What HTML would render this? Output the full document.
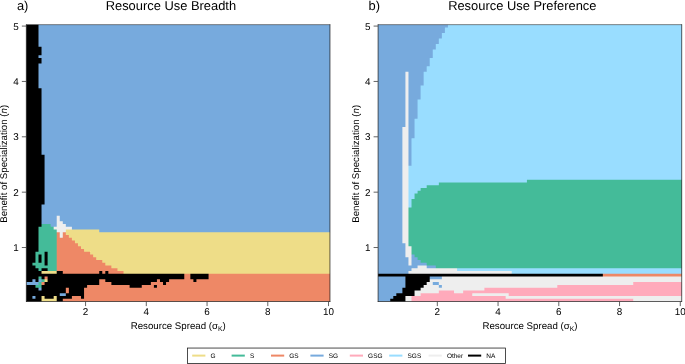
<!DOCTYPE html>
<html><head><meta charset="utf-8"><title>Resource Use</title>
<style>html,body{margin:0;padding:0;background:#fff}svg{display:block}.pg{display:none}@supports (mix-blend-mode:plus-lighter){.fb{display:none}.pg{display:inline}.pl{mix-blend-mode:plus-lighter}}</style></head>
<body>
<svg width="685" height="364" viewBox="0 0 685 364" font-family="'Liberation Sans', Arial, sans-serif" text-rendering="geometricPrecision" fill="#000">
<rect width="685" height="364" fill="#fff"/>
<g class="fb"><path fill="#000000" d="M26.35 24.7h13.15v23.14h-13.15z"/>
<path fill="#77AADD" d="M38.5 24.7h291.55v23.14h-291.55z"/>
<path fill="#000000" d="M26.35 46.84h16.18v9.3h-16.18z"/>
<path fill="#77AADD" d="M41.53 46.84h288.51v9.3h-288.51z"/>
<path fill="#000000" d="M26.35 55.15h13.15v3.77h-13.15z"/>
<path fill="#77AADD" d="M38.5 55.15h291.55v3.77h-291.55z"/>
<path fill="#000000" d="M26.35 57.92h16.18v6.54h-16.18z"/>
<path fill="#77AADD" d="M41.53 57.92h288.51v6.54h-288.51z"/>
<path fill="#000000" d="M26.35 63.45h13.15v25.91h-13.15z"/>
<path fill="#77AADD" d="M38.5 63.45h291.55v25.91h-291.55z"/>
<path fill="#000000" d="M26.35 88.36h16.18v67.43h-16.18z"/>
<path fill="#77AADD" d="M41.53 88.36h288.51v67.43h-288.51z"/>
<path fill="#000000" d="M26.35 154.8h19.22v50.82h-19.22z"/>
<path fill="#77AADD" d="M44.57 154.8h285.48v50.82h-285.48z"/>
<path fill="#000000" d="M26.35 204.62h16.18v12.07h-16.18z"/>
<path fill="#77AADD" d="M41.53 204.62h288.51v12.07h-288.51z"/>
<path fill="#000000" d="M26.35 215.69h16.18v6.54h-16.18z"/>
<path fill="#77AADD" d="M41.53 215.69h16.18v6.54h-16.18z"/>
<path fill="#EEEEEE" d="M56.72 215.69h4.04v6.54h-4.04z"/>
<path fill="#77AADD" d="M59.76 215.69h270.29v6.54h-270.29z"/>
<path fill="#000000" d="M26.35 221.23h16.18v3.77h-16.18z"/>
<path fill="#77AADD" d="M41.53 221.23h16.18v3.77h-16.18z"/>
<path fill="#EEEEEE" d="M56.72 221.23h7.07v3.77h-7.07z"/>
<path fill="#77AADD" d="M62.79 221.23h267.26v3.77h-267.26z"/>
<path fill="#000000" d="M26.35 224h16.18v3.77h-16.18z"/>
<path fill="#44BB99" d="M41.53 224h10.11v3.77h-10.11z"/>
<path fill="#77AADD" d="M50.65 224h7.07v3.77h-7.07z"/>
<path fill="#EEEEEE" d="M56.72 224h10.11v3.77h-10.11z"/>
<path fill="#77AADD" d="M65.83 224h264.22v3.77h-264.22z"/>
<path fill="#000000" d="M26.35 226.76h13.15v3.77h-13.15z"/>
<path fill="#44BB99" d="M38.5 226.76h16.18v3.77h-16.18z"/>
<path fill="#EEEEEE" d="M53.68 226.76h19.22v3.77h-19.22z"/>
<path fill="#77AADD" d="M71.91 226.76h258.14v3.77h-258.14z"/>
<path fill="#000000" d="M26.35 229.53h13.15v3.77h-13.15z"/>
<path fill="#44BB99" d="M38.5 229.53h19.22v3.77h-19.22z"/>
<path fill="#EEEEEE" d="M56.72 229.53h10.11v3.77h-10.11z"/>
<path fill="#EEDD88" d="M65.83 229.53h34.41v3.77h-34.41z"/>
<path fill="#77AADD" d="M99.24 229.53h230.81v3.77h-230.81z"/>
<path fill="#000000" d="M26.35 232.3h13.15v3.77h-13.15z"/>
<path fill="#44BB99" d="M38.5 232.3h19.22v3.77h-19.22z"/>
<path fill="#EE8866" d="M56.72 232.3h4.04v3.77h-4.04z"/>
<path fill="#EEEEEE" d="M59.76 232.3h4.04v3.77h-4.04z"/>
<path fill="#EE8866" d="M62.79 232.3h4.04v3.77h-4.04z"/>
<path fill="#EEDD88" d="M65.83 232.3h264.22v3.77h-264.22z"/>
<path fill="#000000" d="M26.35 235.07h13.15v3.77h-13.15z"/>
<path fill="#44BB99" d="M38.5 235.07h19.22v3.77h-19.22z"/>
<path fill="#EE8866" d="M56.72 235.07h4.04v3.77h-4.04z"/>
<path fill="#EEEEEE" d="M59.76 235.07h4.04v3.77h-4.04z"/>
<path fill="#EE8866" d="M62.79 235.07h7.07v3.77h-7.07z"/>
<path fill="#EEDD88" d="M68.87 235.07h261.18v3.77h-261.18z"/>
<path fill="#000000" d="M26.35 237.84h13.15v3.77h-13.15z"/>
<path fill="#44BB99" d="M38.5 237.84h19.22v3.77h-19.22z"/>
<path fill="#EE8866" d="M56.72 237.84h16.18v3.77h-16.18z"/>
<path fill="#EEDD88" d="M71.91 237.84h258.14v3.77h-258.14z"/>
<path fill="#000000" d="M26.35 240.6h13.15v3.77h-13.15z"/>
<path fill="#44BB99" d="M38.5 240.6h19.22v3.77h-19.22z"/>
<path fill="#EE8866" d="M56.72 240.6h19.22v3.77h-19.22z"/>
<path fill="#EEDD88" d="M74.94 240.6h255.11v3.77h-255.11z"/>
<path fill="#000000" d="M26.35 243.37h13.15v3.77h-13.15z"/>
<path fill="#44BB99" d="M38.5 243.37h19.22v3.77h-19.22z"/>
<path fill="#EE8866" d="M56.72 243.37h22.26v3.77h-22.26z"/>
<path fill="#EEDD88" d="M77.98 243.37h252.07v3.77h-252.07z"/>
<path fill="#000000" d="M26.35 246.14h13.15v3.77h-13.15z"/>
<path fill="#44BB99" d="M38.5 246.14h19.22v3.77h-19.22z"/>
<path fill="#EE8866" d="M56.72 246.14h25.3v3.77h-25.3z"/>
<path fill="#EEDD88" d="M81.02 246.14h249.03v3.77h-249.03z"/>
<path fill="#000000" d="M26.35 248.91h13.15v3.77h-13.15z"/>
<path fill="#44BB99" d="M38.5 248.91h19.22v3.77h-19.22z"/>
<path fill="#EE8866" d="M56.72 248.91h28.33v3.77h-28.33z"/>
<path fill="#EEDD88" d="M84.05 248.91h246v3.77h-246z"/>
<path fill="#000000" d="M26.35 251.68h10.11v3.77h-10.11z"/>
<path fill="#44BB99" d="M35.46 251.68h10.11v3.77h-10.11z"/>
<path fill="#000000" d="M44.57 251.68h4.04v3.77h-4.04z"/>
<path fill="#44BB99" d="M47.61 251.68h10.11v3.77h-10.11z"/>
<path fill="#EE8866" d="M56.72 251.68h34.41v3.77h-34.41z"/>
<path fill="#EEDD88" d="M90.13 251.68h239.92v3.77h-239.92z"/>
<path fill="#000000" d="M26.35 254.44h10.11v3.77h-10.11z"/>
<path fill="#44BB99" d="M35.46 254.44h4.04v3.77h-4.04z"/>
<path fill="#000000" d="M38.5 254.44h4.04v3.77h-4.04z"/>
<path fill="#44BB99" d="M41.53 254.44h4.04v3.77h-4.04z"/>
<path fill="#000000" d="M44.57 254.44h4.04v3.77h-4.04z"/>
<path fill="#44BB99" d="M47.61 254.44h10.11v3.77h-10.11z"/>
<path fill="#EE8866" d="M56.72 254.44h37.44v3.77h-37.44z"/>
<path fill="#EEDD88" d="M93.16 254.44h236.89v3.77h-236.89z"/>
<path fill="#000000" d="M26.35 257.21h10.11v3.77h-10.11z"/>
<path fill="#44BB99" d="M35.46 257.21h4.04v3.77h-4.04z"/>
<path fill="#000000" d="M38.5 257.21h4.04v3.77h-4.04z"/>
<path fill="#44BB99" d="M41.53 257.21h4.04v3.77h-4.04z"/>
<path fill="#000000" d="M44.57 257.21h4.04v3.77h-4.04z"/>
<path fill="#44BB99" d="M47.61 257.21h10.11v3.77h-10.11z"/>
<path fill="#EE8866" d="M56.72 257.21h40.48v3.77h-40.48z"/>
<path fill="#EEDD88" d="M96.2 257.21h233.85v3.77h-233.85z"/>
<path fill="#000000" d="M26.35 259.98h10.11v3.77h-10.11z"/>
<path fill="#44BB99" d="M35.46 259.98h4.04v3.77h-4.04z"/>
<path fill="#000000" d="M38.5 259.98h4.04v3.77h-4.04z"/>
<path fill="#44BB99" d="M41.53 259.98h4.04v3.77h-4.04z"/>
<path fill="#000000" d="M44.57 259.98h4.04v3.77h-4.04z"/>
<path fill="#44BB99" d="M47.61 259.98h10.11v3.77h-10.11z"/>
<path fill="#EE8866" d="M56.72 259.98h46.55v3.77h-46.55z"/>
<path fill="#EEDD88" d="M102.28 259.98h227.78v3.77h-227.78z"/>
<path fill="#000000" d="M26.35 262.75h7.07v3.77h-7.07z"/>
<path fill="#44BB99" d="M32.42 262.75h13.15v3.77h-13.15z"/>
<path fill="#000000" d="M44.57 262.75h4.04v3.77h-4.04z"/>
<path fill="#44BB99" d="M47.61 262.75h10.11v3.77h-10.11z"/>
<path fill="#EE8866" d="M56.72 262.75h49.59v3.77h-49.59z"/>
<path fill="#EEDD88" d="M105.31 262.75h224.74v3.77h-224.74z"/>
<path fill="#000000" d="M26.35 265.52h10.11v3.77h-10.11z"/>
<path fill="#44BB99" d="M35.46 265.52h22.26v3.77h-22.26z"/>
<path fill="#EE8866" d="M56.72 265.52h55.67v3.77h-55.67z"/>
<path fill="#EEDD88" d="M111.39 265.52h218.66v3.77h-218.66z"/>
<path fill="#000000" d="M26.35 268.28h13.15v3.77h-13.15z"/>
<path fill="#44BB99" d="M38.5 268.28h4.04v3.77h-4.04z"/>
<path fill="#000000" d="M41.53 268.28h7.07v3.77h-7.07z"/>
<path fill="#44BB99" d="M47.61 268.28h10.11v3.77h-10.11z"/>
<path fill="#EE8866" d="M56.72 268.28h61.74v3.77h-61.74z"/>
<path fill="#EEDD88" d="M117.46 268.28h212.59v3.77h-212.59z"/>
<path fill="#000000" d="M26.35 271.05h16.18v3.77h-16.18z"/>
<path fill="#EEDD88" d="M41.53 271.05h16.18v3.77h-16.18z"/>
<path fill="#000000" d="M56.72 271.05h7.07v3.77h-7.07z"/>
<path fill="#EE8866" d="M62.79 271.05h37.44v3.77h-37.44z"/>
<path fill="#000000" d="M99.24 271.05h4.04v3.77h-4.04z"/>
<path fill="#EE8866" d="M102.28 271.05h4.04v3.77h-4.04z"/>
<path fill="#000000" d="M105.31 271.05h4.04v3.77h-4.04z"/>
<path fill="#EE8866" d="M108.35 271.05h16.18v3.77h-16.18z"/>
<path fill="#EEDD88" d="M123.53 271.05h206.52v3.77h-206.52z"/>
<path fill="#000000" d="M26.35 273.82h158.92v3.77h-158.92z"/>
<path fill="#EE8866" d="M184.27 273.82h7.07v3.77h-7.07z"/>
<path fill="#000000" d="M190.35 273.82h19.22v3.77h-19.22z"/>
<path fill="#EE8866" d="M208.57 273.82h121.48v3.77h-121.48z"/>
<path fill="#000000" d="M26.35 276.59h13.15v3.77h-13.15z"/>
<path fill="#44BB99" d="M38.5 276.59h4.04v3.77h-4.04z"/>
<path fill="#000000" d="M41.53 276.59h4.04v3.77h-4.04z"/>
<path fill="#EE8866" d="M44.57 276.59h4.04v3.77h-4.04z"/>
<path fill="#000000" d="M47.61 276.59h137.66v3.77h-137.66z"/>
<path fill="#EE8866" d="M184.27 276.59h7.07v3.77h-7.07z"/>
<path fill="#000000" d="M190.35 276.59h19.22v3.77h-19.22z"/>
<path fill="#EE8866" d="M208.57 276.59h121.48v3.77h-121.48z"/>
<path fill="#000000" d="M26.35 279.36h7.07v3.77h-7.07z"/>
<path fill="#77AADD" d="M32.42 279.36h4.04v3.77h-4.04z"/>
<path fill="#000000" d="M35.46 279.36h4.04v3.77h-4.04z"/>
<path fill="#77AADD" d="M38.5 279.36h4.04v3.77h-4.04z"/>
<path fill="#44BB99" d="M41.53 279.36h4.04v3.77h-4.04z"/>
<path fill="#EEDD88" d="M44.57 279.36h4.04v3.77h-4.04z"/>
<path fill="#000000" d="M47.61 279.36h52.63v3.77h-52.63z"/>
<path fill="#EE8866" d="M99.24 279.36h7.07v3.77h-7.07z"/>
<path fill="#000000" d="M105.31 279.36h52.63v3.77h-52.63z"/>
<path fill="#EE8866" d="M156.94 279.36h4.04v3.77h-4.04z"/>
<path fill="#000000" d="M159.98 279.36h10.11v3.77h-10.11z"/>
<path fill="#EE8866" d="M169.09 279.36h25.3v3.77h-25.3z"/>
<path fill="#000000" d="M193.38 279.36h4.04v3.77h-4.04z"/>
<path fill="#EE8866" d="M196.42 279.36h133.63v3.77h-133.63z"/>
<path fill="#77AADD" d="M26.35 282.12h13.15v3.77h-13.15z"/>
<path fill="#44BB99" d="M38.5 282.12h4.04v3.77h-4.04z"/>
<path fill="#EE8866" d="M41.53 282.12h4.04v3.77h-4.04z"/>
<path fill="#000000" d="M44.57 282.12h55.67v3.77h-55.67z"/>
<path fill="#EE8866" d="M99.24 282.12h13.15v3.77h-13.15z"/>
<path fill="#000000" d="M111.39 282.12h40.48v3.77h-40.48z"/>
<path fill="#EE8866" d="M150.87 282.12h13.15v3.77h-13.15z"/>
<path fill="#000000" d="M163.01 282.12h4.04v3.77h-4.04z"/>
<path fill="#EE8866" d="M166.05 282.12h164v3.77h-164z"/>
<path fill="#000000" d="M26.35 284.89h10.11v3.77h-10.11z"/>
<path fill="#44BB99" d="M35.46 284.89h7.07v3.77h-7.07z"/>
<path fill="#000000" d="M41.53 284.89h46.55v3.77h-46.55z"/>
<path fill="#EE8866" d="M87.09 284.89h43.52v3.77h-43.52z"/>
<path fill="#000000" d="M129.61 284.89h13.15v3.77h-13.15z"/>
<path fill="#EE8866" d="M141.76 284.89h13.15v3.77h-13.15z"/>
<path fill="#000000" d="M153.9 284.89h4.04v3.77h-4.04z"/>
<path fill="#EE8866" d="M156.94 284.89h173.11v3.77h-173.11z"/>
<path fill="#000000" d="M26.35 287.66h13.15v3.77h-13.15z"/>
<path fill="#77AADD" d="M38.5 287.66h4.04v3.77h-4.04z"/>
<path fill="#000000" d="M41.53 287.66h25.3v3.77h-25.3z"/>
<path fill="#EE8866" d="M65.83 287.66h4.04v3.77h-4.04z"/>
<path fill="#000000" d="M68.87 287.66h16.18v3.77h-16.18z"/>
<path fill="#EE8866" d="M84.05 287.66h246v3.77h-246z"/>
<path fill="#000000" d="M26.35 290.43h40.48v3.77h-40.48z"/>
<path fill="#EE8866" d="M65.83 290.43h4.04v3.77h-4.04z"/>
<path fill="#000000" d="M68.87 290.43h16.18v3.77h-16.18z"/>
<path fill="#EE8866" d="M84.05 290.43h246v3.77h-246z"/>
<path fill="#000000" d="M26.35 293.2h34.41v3.77h-34.41z"/>
<path fill="#77AADD" d="M59.76 293.2h7.07v3.77h-7.07z"/>
<path fill="#000000" d="M65.83 293.2h19.22v3.77h-19.22z"/>
<path fill="#EE8866" d="M84.05 293.2h246v3.77h-246z"/>
<path fill="#000000" d="M26.35 295.96h7.07v3.77h-7.07z"/>
<path fill="#77AADD" d="M32.42 295.96h4.04v3.77h-4.04z"/>
<path fill="#000000" d="M35.46 295.96h7.07v3.77h-7.07z"/>
<path fill="#EEDD88" d="M41.53 295.96h4.04v3.77h-4.04z"/>
<path fill="#000000" d="M44.57 295.96h10.11v3.77h-10.11z"/>
<path fill="#EEDD88" d="M53.68 295.96h4.04v3.77h-4.04z"/>
<path fill="#000000" d="M56.72 295.96h16.18v3.77h-16.18z"/>
<path fill="#EE8866" d="M71.91 295.96h10.11v3.77h-10.11z"/>
<path fill="#000000" d="M81.02 295.96h4.04v3.77h-4.04z"/>
<path fill="#EE8866" d="M84.05 295.96h246v3.77h-246z"/>
<path fill="#000000" d="M26.35 298.73h16.18v2.77h-16.18z"/>
<path fill="#EEDD88" d="M41.53 298.73h16.18v2.77h-16.18z"/>
<path fill="#000000" d="M56.72 298.73h7.07v2.77h-7.07z"/>
<path fill="#EE8866" d="M62.79 298.73h267.26v2.77h-267.26z"/><path fill="#77AADD" d="M378.1 24.7h70.85v3.77h-70.85z"/>
<path fill="#99DDFF" d="M447.95 24.7h233.85v3.77h-233.85z"/>
<path fill="#77AADD" d="M378.1 27.47h67.81v6.54h-67.81z"/>
<path fill="#99DDFF" d="M444.91 27.47h236.89v6.54h-236.89z"/>
<path fill="#77AADD" d="M378.1 33h64.78v6.54h-64.78z"/>
<path fill="#99DDFF" d="M441.88 33h239.92v6.54h-239.92z"/>
<path fill="#77AADD" d="M378.1 38.54h61.74v6.54h-61.74z"/>
<path fill="#99DDFF" d="M438.84 38.54h242.96v6.54h-242.96z"/>
<path fill="#77AADD" d="M378.1 44.08h58.7v6.54h-58.7z"/>
<path fill="#99DDFF" d="M435.8 44.08h246v6.54h-246z"/>
<path fill="#77AADD" d="M378.1 49.61h55.67v9.3h-55.67z"/>
<path fill="#99DDFF" d="M432.77 49.61h249.03v9.3h-249.03z"/>
<path fill="#77AADD" d="M378.1 57.92h52.63v9.3h-52.63z"/>
<path fill="#99DDFF" d="M429.73 57.92h252.07v9.3h-252.07z"/>
<path fill="#77AADD" d="M378.1 66.22h49.59v6.54h-49.59z"/>
<path fill="#99DDFF" d="M426.69 66.22h255.11v6.54h-255.11z"/>
<path fill="#77AADD" d="M378.1 71.76h28.33v14.84h-28.33z"/>
<path fill="#EEEEEE" d="M405.43 71.76h4.04v14.84h-4.04z"/>
<path fill="#77AADD" d="M408.47 71.76h16.18v14.84h-16.18z"/>
<path fill="#99DDFF" d="M423.66 71.76h258.14v14.84h-258.14z"/>
<path fill="#77AADD" d="M378.1 85.6h28.33v14.84h-28.33z"/>
<path fill="#EEEEEE" d="M405.43 85.6h4.04v14.84h-4.04z"/>
<path fill="#77AADD" d="M408.47 85.6h13.15v14.84h-13.15z"/>
<path fill="#99DDFF" d="M420.62 85.6h261.18v14.84h-261.18z"/>
<path fill="#77AADD" d="M378.1 99.44h28.33v20.38h-28.33z"/>
<path fill="#EEEEEE" d="M405.43 99.44h4.04v20.38h-4.04z"/>
<path fill="#77AADD" d="M408.47 99.44h10.11v20.38h-10.11z"/>
<path fill="#99DDFF" d="M417.58 99.44h264.22v20.38h-264.22z"/>
<path fill="#77AADD" d="M378.1 118.81h28.33v9.3h-28.33z"/>
<path fill="#EEEEEE" d="M405.43 118.81h4.04v9.3h-4.04z"/>
<path fill="#77AADD" d="M408.47 118.81h7.07v9.3h-7.07z"/>
<path fill="#99DDFF" d="M414.54 118.81h267.26v9.3h-267.26z"/>
<path fill="#77AADD" d="M378.1 127.12h25.3v12.07h-25.3z"/>
<path fill="#EEEEEE" d="M402.4 127.12h7.07v12.07h-7.07z"/>
<path fill="#77AADD" d="M408.47 127.12h7.07v12.07h-7.07z"/>
<path fill="#99DDFF" d="M414.54 127.12h267.26v12.07h-267.26z"/>
<path fill="#77AADD" d="M378.1 138.19h25.3v28.68h-25.3z"/>
<path fill="#EEEEEE" d="M402.4 138.19h7.07v28.68h-7.07z"/>
<path fill="#77AADD" d="M408.47 138.19h4.04v28.68h-4.04z"/>
<path fill="#99DDFF" d="M411.51 138.19h270.29v28.68h-270.29z"/>
<path fill="#77AADD" d="M378.1 165.87h25.3v14.84h-25.3z"/>
<path fill="#EEEEEE" d="M402.4 165.87h7.07v14.84h-7.07z"/>
<path fill="#99DDFF" d="M408.47 165.87h273.33v14.84h-273.33z"/>
<path fill="#77AADD" d="M378.1 179.71h25.3v3.77h-25.3z"/>
<path fill="#EEEEEE" d="M402.4 179.71h7.07v3.77h-7.07z"/>
<path fill="#99DDFF" d="M408.47 179.71h119.44v3.77h-119.44z"/>
<path fill="#44BB99" d="M526.91 179.71h154.89v3.77h-154.89z"/>
<path fill="#77AADD" d="M378.1 182.48h25.3v3.77h-25.3z"/>
<path fill="#EEEEEE" d="M402.4 182.48h7.07v3.77h-7.07z"/>
<path fill="#99DDFF" d="M408.47 182.48h31.37v3.77h-31.37z"/>
<path fill="#44BB99" d="M438.84 182.48h242.96v3.77h-242.96z"/>
<path fill="#77AADD" d="M378.1 185.24h25.3v3.77h-25.3z"/>
<path fill="#EEEEEE" d="M402.4 185.24h7.07v3.77h-7.07z"/>
<path fill="#99DDFF" d="M408.47 185.24h19.22v3.77h-19.22z"/>
<path fill="#44BB99" d="M426.69 185.24h255.11v3.77h-255.11z"/>
<path fill="#77AADD" d="M378.1 188.01h25.3v3.77h-25.3z"/>
<path fill="#EEEEEE" d="M402.4 188.01h7.07v3.77h-7.07z"/>
<path fill="#99DDFF" d="M408.47 188.01h13.15v3.77h-13.15z"/>
<path fill="#44BB99" d="M420.62 188.01h261.18v3.77h-261.18z"/>
<path fill="#77AADD" d="M378.1 190.78h25.3v3.77h-25.3z"/>
<path fill="#EEEEEE" d="M402.4 190.78h7.07v3.77h-7.07z"/>
<path fill="#99DDFF" d="M408.47 190.78h10.11v3.77h-10.11z"/>
<path fill="#44BB99" d="M417.58 190.78h264.22v3.77h-264.22z"/>
<path fill="#77AADD" d="M378.1 193.55h25.3v6.54h-25.3z"/>
<path fill="#EEEEEE" d="M402.4 193.55h7.07v6.54h-7.07z"/>
<path fill="#99DDFF" d="M408.47 193.55h7.07v6.54h-7.07z"/>
<path fill="#44BB99" d="M414.54 193.55h267.26v6.54h-267.26z"/>
<path fill="#77AADD" d="M378.1 199.08h25.3v9.3h-25.3z"/>
<path fill="#EEEEEE" d="M402.4 199.08h7.07v9.3h-7.07z"/>
<path fill="#99DDFF" d="M408.47 199.08h4.04v9.3h-4.04z"/>
<path fill="#44BB99" d="M411.51 199.08h270.29v9.3h-270.29z"/>
<path fill="#77AADD" d="M378.1 207.39h25.3v36.98h-25.3z"/>
<path fill="#EEEEEE" d="M402.4 207.39h7.07v36.98h-7.07z"/>
<path fill="#44BB99" d="M408.47 207.39h273.33v36.98h-273.33z"/>
<path fill="#77AADD" d="M378.1 243.37h28.33v3.77h-28.33z"/>
<path fill="#EEEEEE" d="M405.43 243.37h4.04v3.77h-4.04z"/>
<path fill="#44BB99" d="M408.47 243.37h273.33v3.77h-273.33z"/>
<path fill="#77AADD" d="M378.1 246.14h28.33v9.3h-28.33z"/>
<path fill="#EEEEEE" d="M405.43 246.14h7.07v9.3h-7.07z"/>
<path fill="#44BB99" d="M411.51 246.14h270.29v9.3h-270.29z"/>
<path fill="#77AADD" d="M378.1 254.44h28.33v3.77h-28.33z"/>
<path fill="#EEEEEE" d="M405.43 254.44h7.07v3.77h-7.07z"/>
<path fill="#77AADD" d="M411.51 254.44h4.04v3.77h-4.04z"/>
<path fill="#44BB99" d="M414.54 254.44h267.26v3.77h-267.26z"/>
<path fill="#77AADD" d="M378.1 257.21h31.37v3.77h-31.37z"/>
<path fill="#EEEEEE" d="M408.47 257.21h4.04v3.77h-4.04z"/>
<path fill="#77AADD" d="M411.51 257.21h7.07v3.77h-7.07z"/>
<path fill="#44BB99" d="M417.58 257.21h264.22v3.77h-264.22z"/>
<path fill="#77AADD" d="M378.1 259.98h31.37v3.77h-31.37z"/>
<path fill="#EEEEEE" d="M408.47 259.98h4.04v3.77h-4.04z"/>
<path fill="#77AADD" d="M411.51 259.98h10.11v3.77h-10.11z"/>
<path fill="#44BB99" d="M420.62 259.98h261.18v3.77h-261.18z"/>
<path fill="#77AADD" d="M378.1 262.75h31.37v3.77h-31.37z"/>
<path fill="#EEEEEE" d="M408.47 262.75h4.04v3.77h-4.04z"/>
<path fill="#77AADD" d="M411.51 262.75h16.18v3.77h-16.18z"/>
<path fill="#44BB99" d="M426.69 262.75h255.11v3.77h-255.11z"/>
<path fill="#77AADD" d="M378.1 265.52h40.48v3.77h-40.48z"/>
<path fill="#EEEEEE" d="M417.58 265.52h10.11v3.77h-10.11z"/>
<path fill="#77AADD" d="M426.69 265.52h10.11v3.77h-10.11z"/>
<path fill="#44BB99" d="M435.8 265.52h246v3.77h-246z"/>
<path fill="#77AADD" d="M378.1 268.28h34.41v3.77h-34.41z"/>
<path fill="#EEEEEE" d="M411.51 268.28h46.55v3.77h-46.55z"/>
<path fill="#99DDFF" d="M457.06 268.28h224.74v3.77h-224.74z"/>
<path fill="#77AADD" d="M378.1 271.05h31.37v3.77h-31.37z"/>
<path fill="#EEEEEE" d="M408.47 271.05h104.26v3.77h-104.26z"/>
<path fill="#99DDFF" d="M511.73 271.05h170.07v3.77h-170.07z"/>
<path fill="#000000" d="M378.1 273.82h225.74v3.77h-225.74z"/>
<path fill="#EE8866" d="M602.84 273.82h78.96v3.77h-78.96z"/>
<path fill="#77AADD" d="M378.1 276.59h28.33v3.77h-28.33z"/>
<path fill="#000000" d="M405.43 276.59h25.3v3.77h-25.3z"/>
<path fill="#77AADD" d="M429.73 276.59h13.15v3.77h-13.15z"/>
<path fill="#EEEEEE" d="M441.88 276.59h239.92v3.77h-239.92z"/>
<path fill="#77AADD" d="M378.1 279.36h28.33v3.77h-28.33z"/>
<path fill="#000000" d="M405.43 279.36h25.3v3.77h-25.3z"/>
<path fill="#EEEEEE" d="M429.73 279.36h252.07v3.77h-252.07z"/>
<path fill="#77AADD" d="M378.1 282.12h28.33v3.77h-28.33z"/>
<path fill="#000000" d="M405.43 282.12h22.26v3.77h-22.26z"/>
<path fill="#EEEEEE" d="M426.69 282.12h7.07v3.77h-7.07z"/>
<path fill="#77AADD" d="M432.77 282.12h7.07v3.77h-7.07z"/>
<path fill="#EEEEEE" d="M438.84 282.12h195.37v3.77h-195.37z"/>
<path fill="#FFAABB" d="M633.21 282.12h48.59v3.77h-48.59z"/>
<path fill="#77AADD" d="M378.1 284.89h28.33v3.77h-28.33z"/>
<path fill="#000000" d="M405.43 284.89h19.22v3.77h-19.22z"/>
<path fill="#EEEEEE" d="M423.66 284.89h16.18v3.77h-16.18z"/>
<path fill="#77AADD" d="M438.84 284.89h4.04v3.77h-4.04z"/>
<path fill="#EEEEEE" d="M441.88 284.89h116.41v3.77h-116.41z"/>
<path fill="#FFAABB" d="M557.28 284.89h124.52v3.77h-124.52z"/>
<path fill="#77AADD" d="M378.1 287.66h25.3v3.77h-25.3z"/>
<path fill="#000000" d="M402.4 287.66h19.22v3.77h-19.22z"/>
<path fill="#EEEEEE" d="M420.62 287.66h64.78v3.77h-64.78z"/>
<path fill="#FFAABB" d="M484.4 287.66h197.4v3.77h-197.4z"/>
<path fill="#77AADD" d="M378.1 290.43h25.3v3.77h-25.3z"/>
<path fill="#000000" d="M402.4 290.43h13.15v3.77h-13.15z"/>
<path fill="#EEEEEE" d="M414.54 290.43h25.3v3.77h-25.3z"/>
<path fill="#FFAABB" d="M438.84 290.43h16.18v3.77h-16.18z"/>
<path fill="#EEEEEE" d="M454.03 290.43h10.11v3.77h-10.11z"/>
<path fill="#FFAABB" d="M463.14 290.43h218.66v3.77h-218.66z"/>
<path fill="#77AADD" d="M378.1 293.2h19.22v3.77h-19.22z"/>
<path fill="#000000" d="M396.32 293.2h19.22v3.77h-19.22z"/>
<path fill="#EEEEEE" d="M414.54 293.2h7.07v3.77h-7.07z"/>
<path fill="#FFAABB" d="M420.62 293.2h52.63v3.77h-52.63z"/>
<path fill="#EEEEEE" d="M472.25 293.2h37.44v3.77h-37.44z"/>
<path fill="#FFAABB" d="M508.69 293.2h173.11v3.77h-173.11z"/>
<path fill="#77AADD" d="M378.1 295.96h16.18v3.77h-16.18z"/>
<path fill="#000000" d="M393.29 295.96h13.15v3.77h-13.15z"/>
<path fill="#EEEEEE" d="M405.43 295.96h7.07v3.77h-7.07z"/>
<path fill="#FFAABB" d="M411.51 295.96h95.15v3.77h-95.15z"/>
<path fill="#EEEEEE" d="M505.65 295.96h176.15v3.77h-176.15z"/>
<path fill="#77AADD" d="M378.1 298.73h13.15v2.77h-13.15z"/>
<path fill="#000000" d="M390.25 298.73h16.18v2.77h-16.18z"/>
<path fill="#EEEEEE" d="M405.43 298.73h7.07v2.77h-7.07z"/>
<path fill="#FFAABB" d="M411.51 298.73h222.7v2.77h-222.7z"/>
<path fill="#EEEEEE" d="M633.21 298.73h48.59v2.77h-48.59z"/></g>
<g class="pg"><rect x="26.35" y="24.7" width="303.7" height="276.8" fill="#000"/>
<path class="pl" fill="#77AADD" d="M38.498 24.7h291.552v22.144h-291.552zM41.535 46.844h288.515v8.304h-288.515zM38.498 55.148h291.552v2.768h-291.552zM41.535 57.916h288.515v5.536h-288.515zM38.498 63.452h291.552v24.912h-291.552zM41.535 88.364h288.515v66.432h-288.515zM44.572 154.796h285.478v49.824h-285.478zM41.535 204.62h288.515v11.072h-288.515zM59.757 215.692h270.293v5.536h-270.293zM41.535 215.692h15.185v8.304h-15.185zM62.794 221.228h267.256v2.768h-267.256zM50.646 223.996h6.074v2.768h-6.074zM65.831 223.996h264.219v2.768h-264.219zM71.905 226.764h258.145v2.768h-258.145zM99.238 229.532h230.812v2.768h-230.812zM32.424 279.356h3.037v2.768h-3.037zM38.498 279.356h3.037v2.768h-3.037zM26.35 282.124h12.148v2.768h-12.148zM38.498 287.66h3.037v2.768h-3.037zM59.757 293.196h6.074v2.768h-6.074zM32.424 295.964h3.037v2.768h-3.037z"/>
<path class="pl" fill="#EEDD88" d="M65.831 229.532h33.407v2.768h-33.407zM65.831 232.3h264.219v2.768h-264.219zM68.868 235.068h261.182v2.768h-261.182zM71.905 237.836h258.145v2.768h-258.145zM74.942 240.604h255.108v2.768h-255.108zM77.979 243.372h252.071v2.768h-252.071zM81.016 246.14h249.034v2.768h-249.034zM84.053 248.908h245.997v2.768h-245.997zM90.127 251.676h239.923v2.768h-239.923zM93.164 254.444h236.886v2.768h-236.886zM96.201 257.212h233.849v2.768h-233.849zM102.275 259.98h227.775v2.768h-227.775zM105.312 262.748h224.738v2.768h-224.738zM111.386 265.516h218.664v2.768h-218.664zM117.46 268.284h212.59v2.768h-212.59zM41.535 271.052h15.185v2.768h-15.185zM123.534 271.052h206.516v2.768h-206.516zM44.572 279.356h3.037v2.768h-3.037zM41.535 295.964h3.037v2.768h-3.037zM53.683 295.964h3.037v2.768h-3.037zM41.535 298.732h15.185v2.768h-15.185z"/>
<path class="pl" fill="#EE8866" d="M62.794 232.3h3.037v2.768h-3.037zM56.72 232.3h3.037v5.536h-3.037zM62.794 235.068h6.074v2.768h-6.074zM56.72 237.836h15.185v2.768h-15.185zM56.72 240.604h18.222v2.768h-18.222zM56.72 243.372h21.259v2.768h-21.259zM56.72 246.14h24.296v2.768h-24.296zM56.72 248.908h27.333v2.768h-27.333zM56.72 251.676h33.407v2.768h-33.407zM56.72 254.444h36.444v2.768h-36.444zM56.72 257.212h39.481v2.768h-39.481zM56.72 259.98h45.555v2.768h-45.555zM56.72 262.748h48.592v2.768h-48.592zM56.72 265.516h54.666v2.768h-54.666zM56.72 268.284h60.74v2.768h-60.74zM62.794 271.052h36.444v2.768h-36.444zM102.275 271.052h3.037v2.768h-3.037zM108.349 271.052h15.185v2.768h-15.185zM44.572 276.588h3.037v2.768h-3.037zM184.274 273.82h6.074v5.536h-6.074zM208.57 273.82h121.48v5.536h-121.48zM99.238 279.356h6.074v2.768h-6.074zM156.941 279.356h3.037v2.768h-3.037zM169.089 279.356h24.296v2.768h-24.296zM196.422 279.356h133.628v2.768h-133.628zM41.535 282.124h3.037v2.768h-3.037zM99.238 282.124h12.148v2.768h-12.148zM150.867 282.124h12.148v2.768h-12.148zM166.052 282.124h163.998v2.768h-163.998zM87.09 284.892h42.518v2.768h-42.518zM141.756 284.892h12.148v2.768h-12.148zM156.941 284.892h173.109v2.768h-173.109zM65.831 287.66h3.037v5.536h-3.037zM71.905 295.964h9.111v2.768h-9.111zM84.053 287.66h245.997v11.072h-245.997zM62.794 298.732h267.256v2.768h-267.256z"/>
<path class="pl" fill="#44BB99" d="M41.535 223.996h9.111v2.768h-9.111zM38.498 226.764h15.185v2.768h-15.185zM38.498 229.532h18.222v22.144h-18.222zM35.461 251.676h9.111v2.768h-9.111zM35.461 254.444h3.037v8.304h-3.037zM41.535 254.444h3.037v8.304h-3.037zM32.424 262.748h12.148v2.768h-12.148zM47.609 251.676h9.111v13.84h-9.111zM35.461 265.516h21.259v2.768h-21.259zM38.498 268.284h3.037v2.768h-3.037zM47.609 268.284h9.111v2.768h-9.111zM38.498 276.588h3.037v2.768h-3.037zM41.535 279.356h3.037v2.768h-3.037zM38.498 282.124h3.037v2.768h-3.037zM35.461 284.892h6.074v2.768h-6.074z"/>
<path class="pl" fill="#EEEEEE" d="M56.72 215.692h3.037v5.536h-3.037zM56.72 221.228h6.074v2.768h-6.074zM56.72 223.996h9.111v2.768h-9.111zM53.683 226.764h18.222v2.768h-18.222zM56.72 229.532h9.111v2.768h-9.111zM59.757 232.3h3.037v5.536h-3.037z"/></g>
<g class="pg"><rect x="378.1" y="24.7" width="303.7" height="276.8" fill="#000"/>
<path class="pl" fill="#99DDFF" d="M447.951 24.7h233.849v2.768h-233.849zM444.914 27.468h236.886v5.536h-236.886zM441.877 33.004h239.923v5.536h-239.923zM438.84 38.54h242.96v5.536h-242.96zM435.803 44.076h245.997v5.536h-245.997zM432.766 49.612h249.034v8.304h-249.034zM429.729 57.916h252.071v8.304h-252.071zM426.692 66.22h255.108v5.536h-255.108zM423.655 71.756h258.145v13.84h-258.145zM420.618 85.596h261.182v13.84h-261.182zM417.581 99.436h264.219v19.376h-264.219zM414.544 118.812h267.256v19.376h-267.256zM411.507 138.188h270.293v27.68h-270.293zM408.47 165.868h273.33v13.84h-273.33zM408.47 179.708h118.443v2.768h-118.443zM408.47 182.476h30.37v2.768h-30.37zM408.47 185.244h18.222v2.768h-18.222zM408.47 188.012h12.148v2.768h-12.148zM408.47 190.78h9.111v2.768h-9.111zM408.47 193.548h6.074v5.536h-6.074zM408.47 199.084h3.037v8.304h-3.037zM457.062 268.284h224.738v2.768h-224.738zM511.728 271.052h170.072v2.768h-170.072z"/>
<path class="pl" fill="#44BB99" d="M526.913 179.708h154.887v2.768h-154.887zM438.84 182.476h242.96v2.768h-242.96zM426.692 185.244h255.108v2.768h-255.108zM420.618 188.012h261.182v2.768h-261.182zM417.581 190.78h264.219v2.768h-264.219zM414.544 193.548h267.256v5.536h-267.256zM411.507 199.084h270.293v8.304h-270.293zM408.47 207.388h273.33v38.752h-273.33zM411.507 246.14h270.293v8.304h-270.293zM414.544 254.444h267.256v2.768h-267.256zM417.581 257.212h264.219v2.768h-264.219zM420.618 259.98h261.182v2.768h-261.182zM426.692 262.748h255.108v2.768h-255.108zM435.803 265.516h245.997v2.768h-245.997z"/>
<path class="pl" fill="#77AADD" d="M378.1 24.7h69.851v2.768h-69.851zM378.1 27.468h66.814v5.536h-66.814zM378.1 33.004h63.777v5.536h-63.777zM378.1 38.54h60.74v5.536h-60.74zM378.1 44.076h57.703v5.536h-57.703zM378.1 49.612h54.666v8.304h-54.666zM378.1 57.916h51.629v8.304h-51.629zM378.1 66.22h48.592v5.536h-48.592zM408.47 71.756h15.185v13.84h-15.185zM408.47 85.596h12.148v13.84h-12.148zM408.47 99.436h9.111v19.376h-9.111zM378.1 71.756h27.333v55.36h-27.333zM408.47 118.812h6.074v19.376h-6.074zM408.47 138.188h3.037v27.68h-3.037zM378.1 127.116h24.296v116.256h-24.296zM378.1 243.372h27.333v13.84h-27.333zM411.507 254.444h3.037v2.768h-3.037zM411.507 257.212h6.074v2.768h-6.074zM411.507 259.98h9.111v2.768h-9.111zM378.1 257.212h30.37v8.304h-30.37zM411.507 262.748h15.185v2.768h-15.185zM378.1 265.516h39.481v2.768h-39.481zM426.692 265.516h9.111v2.768h-9.111zM378.1 268.284h33.407v2.768h-33.407zM378.1 271.052h30.37v2.768h-30.37zM429.729 276.588h12.148v2.768h-12.148zM432.766 282.124h6.074v2.768h-6.074zM378.1 276.588h27.333v11.072h-27.333zM438.84 284.892h3.037v2.768h-3.037zM378.1 287.66h24.296v5.536h-24.296zM378.1 293.196h18.222v2.768h-18.222zM378.1 295.964h15.185v2.768h-15.185zM378.1 298.732h12.148v2.768h-12.148z"/>
<path class="pl" fill="#EEEEEE" d="M405.433 71.756h3.037v55.36h-3.037zM402.396 127.116h6.074v116.256h-6.074zM405.433 243.372h3.037v2.768h-3.037zM405.433 246.14h6.074v11.072h-6.074zM408.47 257.212h3.037v8.304h-3.037zM417.581 265.516h9.111v2.768h-9.111zM411.507 268.284h45.555v2.768h-45.555zM408.47 271.052h103.258v2.768h-103.258zM441.877 276.588h239.923v2.768h-239.923zM429.729 279.356h252.071v2.768h-252.071zM426.692 282.124h6.074v2.768h-6.074zM438.84 282.124h194.368v2.768h-194.368zM423.655 284.892h15.185v2.768h-15.185zM441.877 284.892h115.406v2.768h-115.406zM420.618 287.66h63.777v2.768h-63.777zM414.544 290.428h24.296v2.768h-24.296zM454.025 290.428h9.111v2.768h-9.111zM414.544 293.196h6.074v2.768h-6.074zM472.247 293.196h36.444v2.768h-36.444zM505.654 295.964h176.146v2.768h-176.146zM405.433 295.964h6.074v5.536h-6.074zM633.208 298.732h48.592v2.768h-48.592z"/>
<path class="pl" fill="#FFAABB" d="M633.208 282.124h48.592v2.768h-48.592zM557.283 284.892h124.517v2.768h-124.517zM484.395 287.66h197.405v2.768h-197.405zM438.84 290.428h15.185v2.768h-15.185zM463.136 290.428h218.664v2.768h-218.664zM420.618 293.196h51.629v2.768h-51.629zM508.691 293.196h173.109v2.768h-173.109zM411.507 295.964h94.147v2.768h-94.147zM411.507 298.732h221.701v2.768h-221.701z"/>
<path class="pl" fill="#EE8866" d="M602.838 273.82h78.962v2.768h-78.962z"/></g>
<g stroke="#1a1a1a" fill="none"><path d="M26 24.65H330.3" stroke-width="0.5"/><path d="M329.95 24.4V301.85" stroke-width="0.7"/><path d="M26 301.5H330.3" stroke-width="0.7"/><path d="M26.35 24.4V301.85" stroke-width="0.7"/></g>
<g stroke="#1a1a1a" fill="none"><path d="M377.75 24.65H682.05" stroke-width="0.5"/><path d="M681.7 24.4V301.85" stroke-width="0.7"/><path d="M377.75 301.5H682.05" stroke-width="0.7"/><path d="M378.1 24.4V301.85" stroke-width="0.7"/></g>
<line x1="85.572" y1="301.8" x2="85.572" y2="306.1" stroke="#222" stroke-width="0.7"/>
<text x="85.572" y="315.2" font-size="9.9" text-anchor="middle">2</text>
<line x1="146.311" y1="301.8" x2="146.311" y2="306.1" stroke="#222" stroke-width="0.7"/>
<text x="146.311" y="315.2" font-size="9.9" text-anchor="middle">4</text>
<line x1="207.051" y1="301.8" x2="207.051" y2="306.1" stroke="#222" stroke-width="0.7"/>
<text x="207.051" y="315.2" font-size="9.9" text-anchor="middle">6</text>
<line x1="267.791" y1="301.8" x2="267.791" y2="306.1" stroke="#222" stroke-width="0.7"/>
<text x="267.791" y="315.2" font-size="9.9" text-anchor="middle">8</text>
<line x1="328.531" y1="301.8" x2="328.531" y2="306.1" stroke="#222" stroke-width="0.7"/>
<text x="328.531" y="315.2" font-size="9.9" text-anchor="middle">10</text>
<line x1="21.85" y1="247.524" x2="26.15" y2="247.524" stroke="#222" stroke-width="0.7"/>
<text x="18.65" y="251.124" font-size="9.9" text-anchor="end">1</text>
<line x1="21.85" y1="192.164" x2="26.15" y2="192.164" stroke="#222" stroke-width="0.7"/>
<text x="18.65" y="195.764" font-size="9.9" text-anchor="end">2</text>
<line x1="21.85" y1="136.804" x2="26.15" y2="136.804" stroke="#222" stroke-width="0.7"/>
<text x="18.65" y="140.404" font-size="9.9" text-anchor="end">3</text>
<line x1="21.85" y1="81.444" x2="26.15" y2="81.444" stroke="#222" stroke-width="0.7"/>
<text x="18.65" y="85.044" font-size="9.9" text-anchor="end">4</text>
<line x1="21.85" y1="26.084" x2="26.15" y2="26.084" stroke="#222" stroke-width="0.7"/>
<text x="18.65" y="29.684" font-size="9.9" text-anchor="end">5</text>
<text x="178.2" y="329" font-size="9.7" text-anchor="middle">Resource Spread (σ<tspan font-size="6.8" dy="1.6">K</tspan><tspan dy="-1.6">)</tspan></text>
<text transform="translate(7.35 163.8) rotate(-90)" font-size="9.7" text-anchor="middle">Benefit of Specialization (<tspan font-style="italic">n</tspan>)</text>
<line x1="437.322" y1="301.8" x2="437.322" y2="306.1" stroke="#222" stroke-width="0.7"/>
<text x="437.322" y="315.2" font-size="9.9" text-anchor="middle">2</text>
<line x1="498.062" y1="301.8" x2="498.062" y2="306.1" stroke="#222" stroke-width="0.7"/>
<text x="498.062" y="315.2" font-size="9.9" text-anchor="middle">4</text>
<line x1="558.802" y1="301.8" x2="558.802" y2="306.1" stroke="#222" stroke-width="0.7"/>
<text x="558.802" y="315.2" font-size="9.9" text-anchor="middle">6</text>
<line x1="619.542" y1="301.8" x2="619.542" y2="306.1" stroke="#222" stroke-width="0.7"/>
<text x="619.542" y="315.2" font-size="9.9" text-anchor="middle">8</text>
<line x1="680.282" y1="301.8" x2="680.282" y2="306.1" stroke="#222" stroke-width="0.7"/>
<text x="680.282" y="315.2" font-size="9.9" text-anchor="middle">10</text>
<line x1="373.6" y1="247.524" x2="377.9" y2="247.524" stroke="#222" stroke-width="0.7"/>
<text x="370.4" y="251.124" font-size="9.9" text-anchor="end">1</text>
<line x1="373.6" y1="192.164" x2="377.9" y2="192.164" stroke="#222" stroke-width="0.7"/>
<text x="370.4" y="195.764" font-size="9.9" text-anchor="end">2</text>
<line x1="373.6" y1="136.804" x2="377.9" y2="136.804" stroke="#222" stroke-width="0.7"/>
<text x="370.4" y="140.404" font-size="9.9" text-anchor="end">3</text>
<line x1="373.6" y1="81.444" x2="377.9" y2="81.444" stroke="#222" stroke-width="0.7"/>
<text x="370.4" y="85.044" font-size="9.9" text-anchor="end">4</text>
<line x1="373.6" y1="26.084" x2="377.9" y2="26.084" stroke="#222" stroke-width="0.7"/>
<text x="370.4" y="29.684" font-size="9.9" text-anchor="end">5</text>
<text x="529.95" y="329" font-size="9.7" text-anchor="middle">Resource Spread (σ<tspan font-size="6.8" dy="1.6">K</tspan><tspan dy="-1.6">)</tspan></text>
<text transform="translate(359.1 163.8) rotate(-90)" font-size="9.7" text-anchor="middle">Benefit of Specialization (<tspan font-style="italic">n</tspan>)</text>
<text x="170.9" y="9.8" font-size="12.9" text-anchor="middle">Resource Use Breadth</text>
<text x="522.3" y="9.8" font-size="12.9" text-anchor="middle">Resource Use Preference</text>
<text x="16.9" y="9.8" font-size="12.9">a)</text>
<text x="368.6" y="9.8" font-size="12.9">b)</text>
<rect x="187.5" y="348.05" width="317.9" height="15.4" fill="#fff" stroke="#1a1a1a" stroke-width="0.78"/>
<line x1="192.2" y1="355.6" x2="205.4" y2="355.6" stroke="#EEDD88" stroke-width="2"/>
<text x="210.5" y="358.3" font-size="6.5">G</text>
<line x1="231.6" y1="355.6" x2="244.8" y2="355.6" stroke="#44BB99" stroke-width="2"/>
<text x="249.9" y="358.3" font-size="6.5">S</text>
<line x1="271" y1="355.6" x2="284.2" y2="355.6" stroke="#EE8866" stroke-width="2"/>
<text x="289.3" y="358.3" font-size="6.5">GS</text>
<line x1="310.4" y1="355.6" x2="323.6" y2="355.6" stroke="#77AADD" stroke-width="2"/>
<text x="328.7" y="358.3" font-size="6.5">SG</text>
<line x1="349.8" y1="355.6" x2="363" y2="355.6" stroke="#FFAABB" stroke-width="2"/>
<text x="368.1" y="358.3" font-size="6.5">GSG</text>
<line x1="389.2" y1="355.6" x2="402.4" y2="355.6" stroke="#99DDFF" stroke-width="2"/>
<text x="407.5" y="358.3" font-size="6.5">SGS</text>
<line x1="428.6" y1="355.6" x2="441.8" y2="355.6" stroke="#EEEEEE" stroke-width="2"/>
<text x="446.9" y="358.3" font-size="6.5">Other</text>
<line x1="468" y1="355.6" x2="481.2" y2="355.6" stroke="#000000" stroke-width="2"/>
<text x="486.3" y="358.3" font-size="6.5">NA</text>
</svg>
</body></html>
